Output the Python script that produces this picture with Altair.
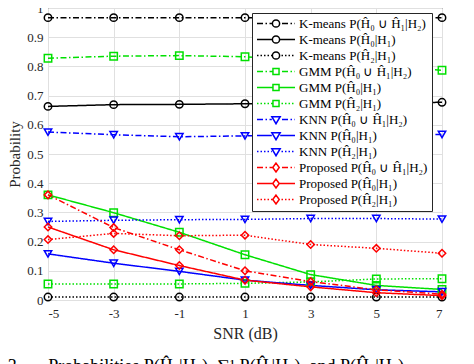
import altair as alt
import pandas as pd

snr = [-5, -3, -1, 1, 3, 5, 7]

kmeans_h01_h2 = [0.967, 0.967, 0.967, 0.967, 0.967, 0.967, 0.967]
kmeans_h0_h1 = [0.663, 0.669, 0.670, 0.672, 0.674, 0.675, 0.677]
kmeans_h2_h1 = [0.010, 0.010, 0.010, 0.010, 0.010, 0.010, 0.010]

gmm_h01_h2 = [0.828, 0.835, 0.837, 0.833, 0.820, 0.800, 0.787]
gmm_h0_h1 = [0.360, 0.299, 0.232, 0.155, 0.087, 0.050, 0.036]
gmm_h2_h1 = [0.055, 0.055, 0.055, 0.057, 0.062, 0.072, 0.073]

knn_h01_h2 = [0.575, 0.566, 0.559, 0.562, 0.564, 0.566, 0.567]
knn_h0_h1 = [0.158, 0.126, 0.098, 0.068, 0.050, 0.035, 0.028]
knn_h2_h1 = [0.269, 0.273, 0.275, 0.276, 0.279, 0.279, 0.277]

prop_h01_h2 = [0.360, 0.248, 0.172, 0.100, 0.063, 0.035, 0.020]
prop_h0_h1 = [0.250, 0.172, 0.118, 0.068, 0.045, 0.025, 0.015]
prop_h2_h1 = [0.207, 0.228, 0.220, 0.222, 0.190, 0.177, 0.160]

HH = "\u0124"   # H with hat
H = "H"
lbl_a = f"P({HH}\u2080 \u222a {HH}\u2081|{H}\u2082)"
lbl_b = f"P({HH}\u2080|{H}\u2081)"
lbl_c = f"P({HH}\u2082|{H}\u2081)"

labels = [
    "K-means " + lbl_a, "K-means " + lbl_b, "K-means " + lbl_c,
    "GMM " + lbl_a, "GMM " + lbl_b, "GMM " + lbl_c,
    "KNN " + lbl_a, "KNN " + lbl_b, "KNN " + lbl_c,
    "Proposed " + lbl_a, "Proposed " + lbl_b, "Proposed " + lbl_c,
]
series_values = [
    kmeans_h01_h2, kmeans_h0_h1, kmeans_h2_h1,
    gmm_h01_h2, gmm_h0_h1, gmm_h2_h1,
    knn_h01_h2, knn_h0_h1, knn_h2_h1,
    prop_h01_h2, prop_h0_h1, prop_h2_h1,
]

BLACK, GREEN, BLUE, RED = "#000000", "#00e000", "#0000ff", "#ff0000"
colors = [BLACK] * 3 + [GREEN] * 3 + [BLUE] * 3 + [RED] * 3
DASHDOT = [6, 2.5, 1.5, 2.5]
SOLID = [1, 0]
DOTTED = [1.5, 2]
dashes = [DASHDOT, SOLID, DOTTED] * 4
shapes = ["circle"] * 3 + ["square"] * 3 + ["triangle-down"] * 3 + ["diamond"] * 3

rows = []
for name, vals in zip(labels, series_values):
    for xv, yv in zip(snr, vals):
        rows.append({"series": name, "snr": xv, "p": yv})
df = pd.DataFrame(rows)

# ---- legend symbols: line segment with marker, drawn as a custom symbol path ----
UNIT = 19.0  # px per symbol unit (symbol spans [-1, 1])
marker_paths = {
    "circle": ("M0.19,0A0.19,0.19,0,1,1,-0.19,0A0.19,0.19,0,1,1,0.19,0Z", 0.19),
    "square": ("M-0.16,-0.16H0.16V0.16H-0.16Z", 0.16),
    "triangle-down": ("M-0.22,-0.15L0.22,-0.15L0,0.22Z", 0.22),
    "diamond": ("M0,-0.23L0.17,0L0,0.23L-0.17,0Z", 0.17),
}


def line_path(pattern, gap):
    segs = []
    pos = -UNIT
    i = 0
    pat = pattern if pattern != SOLID else [2 * UNIT, 0]
    while pos < UNIT:
        length = pat[i % len(pat)]
        on = (i % 2 == 0)
        a, b = pos, min(pos + length, UNIT)
        if on and b > a:
            g = gap * UNIT
            for s, e in ((a, min(b, -g)), (max(a, g), b)):
                if e - s > 0.2:
                    segs.append(f"M{s / UNIT:.3f},0H{e / UNIT:.3f}")
        pos += length
        i += 1
        if length == 0 and i > 4:
            break
    return "".join(segs)


legend_paths = []
for d, s in zip(dashes, shapes):
    mp, gap = marker_paths[s]
    legend_paths.append(line_path(d, gap) + mp)

FONT = "Liberation Serif"

x_enc = alt.X(
    "snr:Q",
    scale=alt.Scale(domain=[-5, 7], nice=False, zero=False),
    axis=alt.Axis(values=snr, title="SNR (dB)", labelExpr="'' + datum.value",
                  labelPadding=7, titlePadding=5, titleFontSize=16),
)
y_enc = alt.Y(
    "p:Q",
    scale=alt.Scale(domain=[0, 1], nice=False),
    axis=alt.Axis(values=[0, 0.1, 0.2, 0.3, 0.4, 0.5, 0.6, 0.7, 0.8, 0.9, 1.0],
                  format="~g", title="Probability", labelPadding=5, titlePadding=4,
                  titleFontSize=15),
)

cscale = alt.Scale(domain=labels, range=colors)

base = alt.Chart(df)

lines = base.mark_line(strokeWidth=1.5).encode(
    x=x_enc, y=y_enc,
    color=alt.Color("series:N", scale=cscale, legend=None),
    strokeDash=alt.StrokeDash("series:N", scale=alt.Scale(domain=labels, range=dashes), legend=None),
)

points = base.mark_point(filled=False, size=55, strokeWidth=1.5, opacity=1).encode(
    x=x_enc, y=y_enc,
    color=alt.Color("series:N", scale=cscale, legend=None),
    shape=alt.Shape("series:N", scale=alt.Scale(domain=labels, range=shapes), legend=None),
)

leg = alt.Legend(
    title=None, orient="none", legendX=204, legendY=5,
    fillColor="white", strokeColor="#262626", padding=4,
    symbolSize=1444, symbolStrokeWidth=1.5, symbolOffset=0,
    labelFont=FONT, labelFontSize=13, labelColor="black", labelLimit=0,
    labelOffset=3, clipHeight=13, rowPadding=2,
)

legend_layer = base.transform_filter("false").mark_point(
    filled=False, strokeWidth=1.5, opacity=1
).encode(
    x=x_enc, y=y_enc,
    color=alt.Color("series:N", scale=cscale, legend=leg),
    shape=alt.Shape("series:N", scale=alt.Scale(domain=labels, range=legend_paths), legend=leg),
)

NB = "\u00a0"
caption = ("3." + NB * 6 + "Probabilities P(\u0124\u2080|H\u2081), \u2211\u00b9 P(\u0124\u1d62|H\u2081), "
           "and P(\u0124\u2082|H\u2081)")

chart = alt.layer(lines, points, legend_layer).resolve_scale(
    color="independent", shape="independent", strokeDash="independent"
).properties(
    width=394, height=292,
    autosize="none",
    padding={"left": 40, "top": 0, "right": 24, "bottom": 64},
    title=alt.TitleParams(text=caption, orient="bottom", anchor="start", dx=0, offset=17,
                          font=FONT, fontSize=18, fontWeight="normal", color="black"),
).configure_view(
    stroke="#262626", strokeWidth=1
).configure_axis(
    labelFont=FONT, titleFont=FONT, labelFontSize=13,
    labelColor="#262626", titleColor="#262626", titleFontWeight="normal",
    gridColor="#e0e0e0", gridWidth=1, ticks=False, domain=False,
)

chart.save("out.html", embed_options={"renderer": "svg", "actions": False})
